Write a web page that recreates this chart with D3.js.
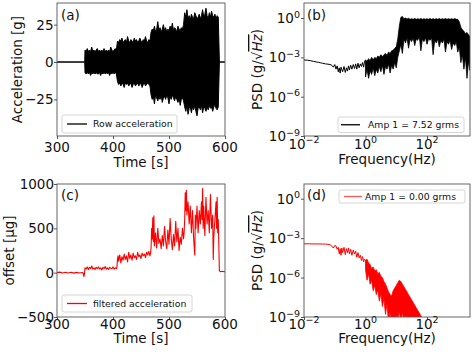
<!DOCTYPE html>
<html><head><meta charset="utf-8">
<script src="https://cdn.jsdelivr.net/npm/d3@7/dist/d3.min.js"></script>
<style>
body{margin:0;background:#fff}
svg{display:block}
text{font-family:"DejaVu Sans",sans-serif;fill:#111}
</style></head><body>
<svg width="474" height="354"></svg>
<script>
// ---------------- data ----------------
// (a) raw acceleration envelope [g]
const accT = [300,349.5,
 350,352,354,356,358,360,362,364,366,368,370,372,374,376,378,380,382,384,386,388,390,392,394,396,398,400,402,404,406,
 408,410,412,414,416,418,420,422,424,426,428,430,432,434,436,438,440,442,444,446,448,450,452,454,456,458,460,462,464,466,
 468,470,472,474,476,478,480,482,484,486,488,490,492,494,496,498,500,502,504,506,508,510,512,514,516,518,520,522,524,526,
 528,530,532,534,536,538,540,542,544,546,548,550,552,554,556,558,560,562,564,566,568,570,572,574,576,578,580,582,584,586,588,
 590,600];
const accHi = [0,0,
 8,7,9,7,8,7,10,7,8,7,8,9,7,8,7,8,7,9,7,8,7,8,7,10,8,7,8,9,8,
 14,13,15,14,16,13,14,15,13,17,14,13,15,14,13,16,14,15,13,14,16,14,13,15,14,17,14,13,15,14,
 20,22,21,24,20,22,27,21,23,20,22,25,21,23,20,22,21,24,22,26,21,23,22,20,24,22,21,23,22,25,
 33,30,35,29,31,28,32,30,29,33,31,29,30,32,29,31,35,30,32,36,31,29,33,30,34,31,30,32,29,31,30,
 0,0];
const accLo = [0,0,
 -7,-8,-7,-8,-7,-9,-7,-8,-7,-8,-7,-8,-8,-7,-9,-7,-8,-7,-8,-7,-8,-7,-9,-7,-8,-7,-8,-7,-8,
 -13,-15,-14,-16,-14,-15,-17,-14,-15,-14,-16,-15,-14,-17,-15,-14,-16,-15,-14,-16,-15,-14,-17,-15,-14,-16,-15,-14,-15,-16,
 -22,-25,-23,-28,-22,-24,-26,-23,-25,-22,-27,-24,-23,-25,-22,-24,-28,-23,-25,-22,-24,-26,-23,-25,-27,-24,-29,-25,-24,-26,
 -30,-33,-29,-35,-31,-30,-34,-30,-32,-29,-33,-36,-31,-30,-32,-29,-34,-30,-31,-33,-30,-32,-29,-31,-30,-33,-30,-29,-31,-32,-30,
 0,0];

// (b) PSD of raw acceleration: low-frequency line (log10 of PSD)
const psdBLowF = [0.01,0.013,0.016,0.02,0.025,0.03,0.035,0.04,0.05,0.06,0.07,0.08,0.09,0.1,0.11,0.12,0.13,0.14,0.15,0.16,0.18,0.2,0.22,0.24,0.26,0.28,0.3,0.33,0.36,0.4,0.44,0.48,0.52,0.57,0.62,0.68,0.74,0.8,0.87,0.93,1];
const psdBLowExp = [-3.2,-3.22,-3.25,-3.3,-3.35,-3.38,-3.42,-3.45,-3.5,-3.52,-3.55,-3.6,-3.75,-3.55,-3.9,-3.65,-4.1,-3.8,-4.2,-3.75,-4.1,-3.7,-4.15,-3.8,-4.05,-3.65,-3.95,-3.6,-3.9,-3.55,-3.85,-3.5,-3.9,-3.45,-3.8,-3.5,-3.7,-3.4,-3.75,-3.3,-3.2];
// (b) dense part: envelope (log10 of PSD)
const psdBF = [1,1.12,1.26,1.41,1.58,1.78,2,2.24,2.51,2.82,3.16,3.55,3.98,4.47,5.01,5.62,6.31,7.08,7.94,8.91,
 10,11.2,12.6,14.1,15.8,17.8,20,22.4,25.1,28.2,31.6,35.5,39.8,44.7,50.1,56.2,63.1,70.8,79.4,89.1,
 100,112,126,141,158,178,200,224,251,282,316,355,398,447,501,562,631,708,794,891,
 1000,1122,1259,1413,1585,1778,1995,2239,2500];
const psdBHiExp = [-3.2,-3.3,-3.1,-3.25,-3.0,-3.2,-3.0,-3.1,-2.9,-3.0,-2.8,-2.95,-2.8,-2.7,-2.85,-2.6,-2.7,-2.5,-2.45,-2.3,
 -2.2,-1.6,-0.6,0.05,0.12,-0.05,0.0,-0.08,-0.02,-0.1,-0.05,-0.1,-0.03,-0.1,-0.05,-0.1,-0.04,-0.1,-0.05,-0.1,
 -0.05,-0.1,-0.04,-0.1,-0.05,-0.1,-0.05,-0.1,-0.04,-0.1,-0.05,-0.1,-0.04,-0.1,-0.05,-0.1,-0.05,-0.1,-0.04,-0.1,
 -0.1,-0.3,-0.7,-0.9,-1.0,-1.2,-1.1,-1.3,-1.4];
const psdBLoExp = [-4.5,-3.9,-4.6,-4.0,-4.3,-3.8,-4.4,-3.9,-4.2,-3.7,-4.1,-3.6,-4.3,-3.7,-3.9,-3.5,-4.2,-3.6,-3.9,-3.4,
 -3.8,-3.0,-2.5,-2.0,-2.7,-1.6,-1.9,-1.5,-2.3,-1.6,-1.8,-1.5,-2.1,-1.6,-1.7,-1.4,-2.5,-1.6,-1.8,-1.5,
 -2.0,-1.6,-1.7,-1.5,-2.8,-1.7,-1.9,-1.6,-2.2,-1.7,-1.9,-1.6,-2.6,-1.8,-2.0,-1.7,-2.4,-1.9,-2.1,-1.8,
 -2.6,-2.2,-3.4,-2.8,-3.9,-3.0,-4.6,-3.3,-4.0];

// (c) filtered acceleration offset [µg]
const offT = [300,305,310,315,320,325,330,335,340,345,347,348,349,
 350,352,354,356,358,360,362,364,366,368,370,372,374,376,378,380,382,384,386,388,390,392,394,396,398,400,402,404,406,407,
 408,409,410,412,414,416,418,420,422,424,426,428,430,432,434,436,438,440,442,444,446,448,450,452,454,456,458,460,462,464,466,467,
 468,469,470,471,472,473,474,476,478,480,482,484,486,488,490,492,494,496,498,500,502,504,506,508,510,512,514,516,518,520,522,524,526,527,
 528,529,530,531,532,534,536,538,540,542,544,546,547,548,550,552,554,556,558,559,560,561,562,564,566,568,570,572,574,576,578,579,580,582,584,585,586,587,588,589,
 590,592,595,600];
const offV = [0,6,-4,5,-3,4,-5,3,-4,2,-6,-45,-15,
 55,40,65,35,60,45,75,40,55,35,60,45,65,40,55,30,60,45,70,40,55,35,60,50,45,65,40,55,45,60,
 150,190,130,200,110,180,140,210,150,190,120,230,160,200,140,220,170,190,150,230,180,200,160,220,190,210,170,230,200,240,190,220,
 280,500,380,620,350,640,300,450,280,500,330,380,270,420,300,520,350,270,480,320,610,380,260,430,300,580,350,500,250,400,320,500,380,450,
 600,900,700,930,650,800,550,750,450,700,380,200,650,500,750,450,700,550,800,600,950,500,750,420,850,550,700,450,880,500,650,150,400,600,800,500,850,450,600,300,
 20,10,15,10];

// (d) PSD of filtered acceleration (log10 of PSD)
const psdDLowF = [0.01,0.015,0.02,0.03,0.04,0.05,0.06,0.07,0.08,0.09,0.1,0.11,0.12,0.13,0.14,0.15,0.16,0.17,0.18,0.2,0.22,0.24,0.26,0.28,0.3,0.33,0.36,0.4,0.44,0.48,0.52,0.57,0.62,0.68,0.74,0.8,0.87,0.93,1];
const psdDLowExp = [-3.43,-3.43,-3.44,-3.44,-3.45,-3.45,-3.47,-3.5,-3.6,-3.75,-3.55,-3.6,-3.85,-3.7,-4.2,-3.8,-4.3,-3.75,-4.1,-3.7,-4.25,-3.8,-4.1,-3.75,-4.2,-3.85,-4.3,-3.9,-4.2,-4.0,-4.45,-4.1,-4.5,-4.3,-4.7,-4.4,-4.8,-4.6,-4.7];
const psdDF = [1,1.12,1.26,1.41,1.58,1.78,2,2.24,2.51,2.82,3.16,3.55,3.98,4.47,5.01,5.62,6.31,7.08,7.94,8.91,
 10,11.2,12.6,14.1,15.8,17.8,20,22.4,25.1,28.2,31.6,35.5,39.8,44.7,50.1,56.2,63.1,70.8,79.4];
const psdDHiExp = [-4.7,-4.6,-4.9,-5.0,-5.3,-5.2,-5.5,-5.4,-5.7,-5.6,-5.9,-6.0,-6.3,-6.5,-6.8,-7.1,-7.3,-7.4,-7.0,-6.8,
 -6.6,-6.4,-6.2,-6.3,-6.5,-6.7,-6.9,-7.1,-7.3,-7.5,-7.7,-7.9,-8.1,-8.3,-8.5,-8.7,-8.9,-9.1,-9.3];
const psdDLoExp = [-5.4,-6.2,-5.7,-6.5,-6.2,-7.0,-6.6,-7.3,-6.9,-7.8,-7.2,-8.2,-7.6,-8.8,-8.0,-9.5,-8.6,-9.5,-9.0,-9.5,
 -8.8,-9.5,-8.5,-9.5,-8.6,-9.5,-8.8,-9.5,-9.0,-9.5,-9.2,-9.5,-9.5,-9.5,-9.5,-9.5,-9.5,-9.5,-9.5];

// ticks & labels
const timeTicks = [300,400,500,600];
const accTicks = [-25,0,25];
const offTicks = [-500,0,500,1000];
const freqTicks = [1e-2,1e0,1e2];
const freqTickExp = ["\u22122","0","2"];
const psdTicks = [1e-9,1e-6,1e-3,1e0];
const psdTickExp = ["\u22129","\u22126","\u22123","0"];
const legendLabels = ["Row acceleration","Amp 1 = 7.52 grms","filtered acceleration","Amp 1 = 0.00 grms"];

// ---------------- drawing ----------------
const svg = d3.select("svg");
svg.append("rect").attr("width",474).attr("height",354).attr("fill","#fff");
const FS = 13.5, EXP = 9.5, LFS = 9.3, AX = "#555";
const pow = e => Math.pow(10, e);
const fmtLin = v => v < 0 ? "\u2212" + Math.abs(v) : String(v);

const xA = d3.scaleLinear().domain([300,600]).range([57,225]);
const yA = d3.scaleLinear().domain([-49.5,39.5]).range([136,3]);
const xB = d3.scaleLog().domain([0.01,2500]).range([304,470]);
const yB = d3.scaleLog().domain([1e-9,14]).range([136,3]);
const xC = d3.scaleLinear().domain([300,600]).range([57,225]);
const yC = d3.scaleLinear().domain([-500,1000]).range([317,184]);
const xD = d3.scaleLog().domain([0.01,2500]).range([304,470]);
const yD = d3.scaleLog().domain([1e-9,13.2]).range([317,184]);

let clipN = 0;
function plotArea(x, y) {
  const id = "clip" + (clipN++);
  const [xa, xb] = x.range(), [yb, ya] = y.range();
  svg.append("clipPath").attr("id", id).append("rect")
    .attr("x", xa).attr("y", ya).attr("width", xb - xa).attr("height", yb - ya);
  return svg.append("g").attr("clip-path", `url(#${id})`);
}
function frame(x, y) {
  const [xa, xb] = x.range(), [yb, ya] = y.range();
  svg.append("g").attr("transform", `translate(0,${yb})`)
    .call(d3.axisBottom(x).tickValues(x === xA || x === xC ? timeTicks : freqTicks).tickSize(3).tickFormat(() => ""))
    .call(s => { s.select(".domain").remove(); s.selectAll("line").attr("stroke", AX); });
  svg.append("g").attr("transform", `translate(${xa},0)`)
    .call(d3.axisLeft(y).tickValues(y === yA ? accTicks : y === yC ? offTicks : psdTicks).tickSize(3).tickFormat(() => ""))
    .call(s => { s.select(".domain").remove(); s.selectAll("line").attr("stroke", AX); });
  svg.append("rect").attr("x", xa).attr("y", ya).attr("width", xb - xa).attr("height", yb - ya)
    .attr("fill", "none").attr("stroke", AX).attr("stroke-width", 0.9);
}
function linXLabels(x, vals, base) {
  vals.forEach(v => svg.append("text").attr("x", x(v)).attr("y", base).attr("text-anchor", "middle")
    .attr("font-size", FS).text(fmtLin(v)));
}
function linYLabels(y, vals, right) {
  vals.forEach(v => svg.append("text").attr("x", right).attr("y", y(v) + 5).attr("text-anchor", "end")
    .attr("font-size", FS).text(fmtLin(v)));
}
function logXLabels(x, vals, exps, base) {
  vals.forEach((v, i) => {
    const t = svg.append("text").attr("x", x(v)).attr("y", base).attr("text-anchor", "middle").attr("font-size", FS);
    t.append("tspan").text("10");
    t.append("tspan").attr("dy", -5.5).attr("font-size", EXP).text(exps[i]);
  });
}
function logYLabels(y, vals, exps, right) {
  vals.forEach((v, i) => {
    const t = svg.append("text").attr("x", right).attr("y", y(v) + 5).attr("text-anchor", "end").attr("font-size", FS);
    t.append("tspan").text("10");
    t.append("tspan").attr("dy", -5.5).attr("font-size", EXP).text(exps[i]);
  });
}
function xLabel(txt, cx, base) {
  svg.append("text").attr("x", cx).attr("y", base).attr("text-anchor", "middle").attr("font-size", FS).text(txt);
}
function yLabelText(bx, cy) {
  return svg.append("text").attr("transform", `translate(${bx},${cy}) rotate(-90)`)
    .attr("text-anchor", "middle").attr("font-size", FS);
}
function psdYLabel(bx, cy) {
  const t = yLabelText(bx, cy);
  t.append("tspan").text("PSD (g/\u221A");
  t.append("tspan").attr("font-style", "italic").style("text-decoration", "overline").text("Hz");
  t.append("tspan").text(")");
}
function tag(txt, x, y) {
  svg.append("text").attr("x", x).attr("y", y).attr("font-size", FS).text(txt);
}
function legend(bx, by, bw, bh, color, label, lx0, lx1, tx) {
  const cy = by + bh / 2;
  svg.append("rect").attr("x", bx).attr("y", by).attr("width", bw).attr("height", bh).attr("rx", 2)
    .attr("fill", "#fff").attr("fill-opacity", 0.85).attr("stroke", "#ccc").attr("stroke-width", 0.8);
  svg.append("line").attr("x1", lx0).attr("x2", lx1).attr("y1", cy).attr("y2", cy)
    .attr("stroke", color).attr("stroke-width", 1.3);
  svg.append("text").attr("x", tx).attr("y", cy + 3.3).attr("font-size", LFS).attr("fill", "#222").text(label);
}

// ---- panel (a)
{
  const g = plotArea(xA, yA);
  const d = d3.zip(accT, accHi, accLo);
  g.append("path").datum(d).attr("fill", "#000")
    .attr("d", d3.area().x(p => xA(p[0])).y0(p => yA(p[2])).y1(p => yA(p[1])));
  g.append("path").datum(d).attr("fill", "none").attr("stroke", "#000").attr("stroke-width", 1)
    .attr("d", d3.line().x(p => xA(p[0])).y(p => yA(p[1])));
  g.append("path").datum(d).attr("fill", "none").attr("stroke", "#000").attr("stroke-width", 1)
    .attr("d", d3.line().x(p => xA(p[0])).y(p => yA(p[2])));
  frame(xA, yA);
  linXLabels(xA, timeTicks, 151.5);
  linYLabels(yA, accTicks, 53.5);
  xLabel("Time [s]", 141, 167);
  yLabelText(22, 69.5).text("Acceleration [g]");
  tag("(a)", 61, 20);
  legend(62, 115, 115, 18, "#000", legendLabels[0], 67, 87, 93);
}
// ---- panel (b)
{
  const g = plotArea(xB, yB);
  const low = d3.zip(psdBLowF, psdBLowExp);
  g.append("path").datum(low).attr("fill", "none").attr("stroke", "#000").attr("stroke-width", 1)
    .attr("d", d3.line().x(p => xB(p[0])).y(p => yB(pow(p[1]))));
  const d = d3.zip(psdBF, psdBHiExp, psdBLoExp);
  g.append("path").datum(d).attr("fill", "#000").attr("stroke", "#000").attr("stroke-width", 0.8)
    .attr("d", d3.area().x(p => xB(p[0])).y0(p => yB(pow(p[2]))).y1(p => yB(pow(p[1]))));
  frame(xB, yB);
  logXLabels(xB, freqTicks, freqTickExp, 148.5);
  logYLabels(yB, psdTicks, psdTickExp, 300);
  xLabel("Frequency(Hz)", 387, 164);
  psdYLabel(262, 69.5);
  tag("(b)", 307, 20);
  legend(338, 117, 126, 15.5, "#000", legendLabels[1], 341, 360, 368);
}
// ---- panel (c)
{
  const g = plotArea(xC, yC);
  g.append("path").datum(d3.zip(offT, offV)).attr("fill", "none").attr("stroke", "#f00").attr("stroke-width", 1.1)
    .attr("stroke-linejoin", "round")
    .attr("d", d3.line().x(p => xC(p[0])).y(p => yC(p[1])));
  frame(xC, yC);
  linXLabels(xC, timeTicks, 329);
  linYLabels(yC, offTicks, 54);
  xLabel("Time [s]", 141, 342.5);
  yLabelText(13.5, 250.5).text("offset [\u00B5g]");
  tag("(c)", 61, 200);
  legend(62, 295, 130, 17, "#f00", legendLabels[2], 67, 87, 93);
}
// ---- panel (d)
{
  const g = plotArea(xD, yD);
  g.append("path").datum(d3.zip(psdDLowF, psdDLowExp)).attr("fill", "none").attr("stroke", "#f00").attr("stroke-width", 1)
    .attr("d", d3.line().x(p => xD(p[0])).y(p => yD(pow(p[1]))));
  const d = d3.zip(psdDF, psdDHiExp, psdDLoExp);
  g.append("path").datum(d).attr("fill", "#f00").attr("stroke", "#f00").attr("stroke-width", 0.8)
    .attr("d", d3.area().x(p => xD(p[0])).y0(p => yD(pow(p[2]))).y1(p => yD(pow(p[1]))));
  frame(xD, yD);
  logXLabels(xD, freqTicks, freqTickExp, 328.5);
  logYLabels(yD, psdTicks, psdTickExp, 300);
  xLabel("Frequency(Hz)", 387, 342.5);
  psdYLabel(262, 250.5);
  tag("(d)", 307, 200);
  legend(339, 190, 126, 13, "#f55", legendLabels[3], 344, 362, 365);
}
</script>
</body></html>
